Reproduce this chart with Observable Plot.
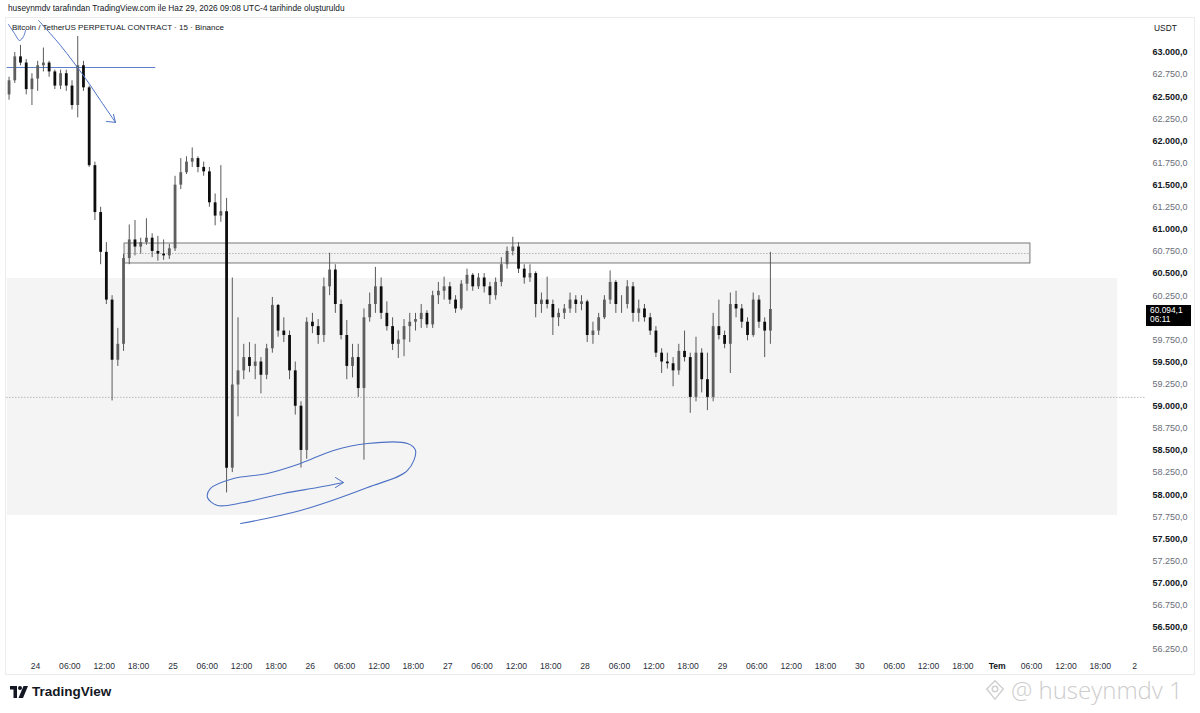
<!DOCTYPE html>
<html><head><meta charset="utf-8">
<script src="https://cdn.jsdelivr.net/npm/d3@7"></script>
<script src="https://cdn.jsdelivr.net/npm/@observablehq/plot@0.6"></script>
<style>
body{margin:0;background:#fff;width:1200px;height:713px;overflow:hidden;position:relative;font-family:"Liberation Sans",Arial,sans-serif;color:#131722}
#frame{position:absolute;left:5px;top:17px;width:1190px;height:658px;border:1px solid #ececec;box-sizing:border-box}
#chart{position:absolute;left:0;top:17px}
#hdr{position:absolute;left:8px;top:3px;font-size:8.3px;color:#131722;white-space:nowrap}
#legend{position:absolute;left:12px;top:23px;font-size:8px;color:#131722;white-space:nowrap}
#usdt{position:absolute;left:1154px;top:23px;font-size:8.4px;color:#131722}
#price{position:absolute;left:1146px;width:45px;height:21px;background:#000;color:#fff;font-size:8.4px;line-height:9.5px;padding:1px 0 0 4px;box-sizing:border-box;z-index:5}
#tv{position:absolute;left:10px;top:684px;font-size:13.5px;font-weight:bold;color:#131722;display:flex;align-items:center;gap:4px}
#wm{position:absolute;left:984px;top:673px;font-size:24px;color:#cdcdcd;display:flex;align-items:center;gap:5px;font-family:"Open Sans",sans-serif;font-weight:300;white-space:nowrap}
</style></head><body>
<div id="frame"></div>
<div id="chart"></div>
<div id="hdr">huseynmdv tarafından TradingView.com ile Haz 29, 2026 09:08 UTC-4 tarihinde oluşturuldu</div>
<div id="legend">Bitcoin / TetherUS PERPETUAL CONTRACT · 15 · Binance</div>
<div id="usdt">USDT</div>
<div id="price">60.094,1<br>06:11</div>
<div id="tv"><svg width="18" height="12" viewBox="0 0 36 24"><path d="M0 0h14v24H7V7H0z" fill="#131722"/><circle cx="20" cy="4" r="4" fill="#131722"/><path d="M27 0h9L26 24h-9z" fill="#131722"/></svg>TradingView</div>
<div id="wm"><svg width="22" height="22" viewBox="0 0 24 24"><path d="M12 2l9 9-9 11-9-11z" fill="none" stroke="#d0d0d0" stroke-width="1.6"/><circle cx="12" cy="11" r="3" fill="none" stroke="#d0d0d0" stroke-width="1.6"/></svg><span>@ huseynmdv 1</span></div>
<script>
// ---- data: BTCUSDT.P, aggregated hourly from the 15m chart (first hour 23 Jun 19:00) ----
const firstHour = "2026-06-23T19:00:00Z";
const opens = [62520,62680,62950,62880,62580,62700,62850,62880,62780,62620,62760,62620,62400,62850,62600,61720,61190,60740,60200,59520,59700,60670,60880,60800,60850,60900,60750,60720,60700,60780,61500,61640,61760,61800,61700,61650,61300,61150,61200,58300,59240,59400,59550,59450,59500,59350,59650,60140,59850,59800,59400,59000,58500,59950,59900,59800,60350,60540,60150,59800,59450,59550,59200,60000,60150,60350,60050,59900,59700,59750,59900,59950,59980,60050,59920,60250,60300,60350,60200,60100,60380,60480,60350,60450,60350,60250,60400,60600,60750,60800,60550,60450,60500,60150,60200,60150,60000,60050,60100,60200,60150,60180,59800,59850,60000,60200,60400,60150,60150,60350,60050,60100,60000,59850,59600,59500,59480,59400,59620,59550,59100,59600,59300,59100,59900,59800,59700,60150,60100,59950,59800,60200,59950,59850];
const highs = [62720,63000,63080,62920,62760,62900,63050,62900,62800,62800,62800,62680,63180,62900,62620,61760,61250,60850,60250,59880,60720,61050,61100,60900,61120,60950,60920,60880,60830,61600,61800,61820,61920,61820,61760,61700,61400,61720,61350,60450,60000,59700,59720,59700,59550,59700,60230,60150,60000,59850,59500,59050,60000,60050,59980,60450,60730,60600,60200,59970,59700,59700,60100,60280,60570,60450,60180,60000,59850,59980,60050,60050,60150,60080,60300,60400,60460,60400,60250,60420,60550,60500,60500,60500,60400,60450,60680,60800,60910,60850,60600,60600,60520,60280,60460,60200,60100,60150,60280,60250,60250,60200,59950,60050,60250,60530,60420,60250,60420,60400,60200,60150,60050,59900,59650,59600,59550,59700,59850,59600,59780,59650,59600,60050,60200,59850,60280,60300,60150,60000,60280,60250,60000,60740];
const lows = [62460,62650,62850,62520,62400,62560,62780,62720,62580,62580,62560,62350,62260,62560,61700,61100,60600,60150,59060,59450,59620,60600,60700,60720,60820,60680,60640,60650,60660,60750,61450,61620,61700,61640,61600,61250,61040,61080,58020,58250,58880,59300,59380,59300,59140,59300,59600,59780,59720,59300,58900,58300,58400,59820,59700,59720,60250,60050,59750,59300,59320,59100,58390,59950,60050,59980,59850,59630,59540,59560,59720,59850,59880,59880,59880,60150,60200,60150,60050,60080,60300,60300,60320,60280,60150,60200,60350,60550,60700,60500,60380,60400,60000,60050,60100,59800,59900,59980,60050,60050,60080,59720,59700,59800,59980,60150,60050,60050,60100,59950,59950,59950,59800,59550,59370,59420,59220,59350,59500,58920,59050,59150,58950,59050,59750,59650,59370,60000,59880,59740,59780,59880,59550,59700];
const closes = [62680,62950,62880,62580,62700,62850,62880,62780,62620,62760,62620,62400,62850,62600,61720,61190,60740,60200,59520,59700,60670,60880,60800,60850,60900,60750,60720,60700,60780,61500,61640,61760,61800,61700,61650,61300,61150,61200,58300,59240,59400,59550,59450,59500,59350,59650,60140,59850,59800,59400,59000,58500,59950,59900,59800,60350,60540,60150,59800,59450,59550,59200,60000,60150,60350,60050,59900,59700,59750,59900,59950,59980,60050,59920,60250,60300,60350,60200,60100,60380,60480,60350,60450,60350,60250,60400,60600,60750,60800,60550,60450,60500,60150,60200,60150,60000,60050,60100,60200,60150,60180,59800,59850,60000,60200,60400,60150,60150,60350,60050,60100,60000,59850,59600,59500,59480,59400,59620,59550,59100,59600,59300,59100,59900,59800,59700,60150,60100,59950,59800,60200,59950,59850,60094];
const lastPrice = 60094.1;
const lastCountdown = "06:11";

// price axis ticks (60.000,0 is hidden under the last-price label in the original)
const priceTicksBold = [56500,57000,57500,58000,58500,59000,59500,60500,61000,61500,62000,62500,63000];
const priceTicksThin = [56250,56750,57250,57750,58250,58750,59250,59750,60250,60750,61250,61750,62250,62750];
// time axis: ticks every 6 hours starting 24 Jun 00:00
const timeTickStart = "2026-06-24T00:00:00Z";
const timeTickLabels = ["24","06:00","12:00","18:00","25","06:00","12:00","18:00","26","06:00","12:00","18:00","27","06:00","12:00","18:00","28","06:00","12:00","18:00","29","06:00","12:00","18:00","30","06:00","12:00","18:00","Tem","06:00","12:00","18:00","2"];

// drawings (hours from 24 Jun 00:00, price)
const demandZone = {from: -4.95, to: 189, low: 57765, high: 60445};
const supplyBox = {from: 15.55, to: 173.8, low: 60614, high: 60840, mid: 60727};
const dottedLevel = 59100;
const blueLevel = {from: -4.95, to: 21, price: 62830};
const squiggleT = [-4.72,-3.67,-2.79,-2.10,-1.75];
const squiggleP = [63317,63215,63136,63181,63249];
const arrowT = [0.52,4.37,8.73,11.35,13.97];
const arrowP = [63362,63079,62706,62457,62209];
const arrowHeadT = [12.40,13.97,13.62];
const arrowHeadP = [62220,62209,62299];
const loopT = [35.81,46.29,57.99,64.98,66.38,64.98,57.99,52.05,46.29,40.52,34.59,30.57,30.04,31.79,36.33,43.32,49.26,53.80];
const loopP = [57674,57821,58081,58274,58500,58579,58579,58500,58353,58240,58183,58070,57968,57878,57912,58014,58081,58138];
const loopHeadT = [52.40,53.80,52.40];
const loopHeadP = [58194,58138,58081];

// ---- build ----
const HOUR = 36e5;
const base = new Date(firstHour).getTime();
const t24 = new Date(timeTickStart).getTime();
const H = h => new Date(t24 + h * HOUR);
const candles = opens.map((o, i) => ({t: new Date(base + (i + 0.375) * HOUR), open: o, high: highs[i], low: lows[i], close: closes[i]}));
const timeTicks = timeTickLabels.map((_, i) => new Date(t24 + i * 6 * HOUR));
const labelOf = new Map(timeTicks.map((d, i) => [+d, timeTickLabels[i]]));
const pts = (T, P) => T.map((t, i) => ({t: H(t), p: P[i]}));
const loc = d3.formatLocale({decimal: ",", thousands: ".", grouping: [3], currency: ["", ""]});
const fmt = loc.format(",.1f");
const blue = "#4d71c4";

const plot = Plot.plot({
  width: 1200, height: 660,
  marginLeft: 6, marginRight: 55, marginTop: 1, marginBottom: 20,
  style: {background: "transparent", fontFamily: "Liberation Sans, Arial, sans-serif", overflow: "visible"},
  x: {type: "utc", domain: [H(-5.07), H(193.9)]},
  y: {domain: [56159, 63384]},
  marks: [
    Plot.rect([demandZone], {x1: d => H(d.from), x2: d => H(d.to), y1: "low", y2: "high", fill: "#f4f4f4"}),
    Plot.ruleY([dottedLevel], {stroke: "#a9a9a9", strokeWidth: 0.8, strokeDasharray: "1.5,1.5"}),
    Plot.rect([supplyBox], {x1: d => H(d.from), x2: d => H(d.to), y1: "low", y2: "high", fill: "#f1f1f1", fillOpacity: 0.85, stroke: "#6b6b6b", strokeWidth: 0.9}),
    Plot.ruleY([supplyBox], {x1: d => H(d.from), x2: d => H(d.to), y: "mid", stroke: "#9a9a9a", strokeWidth: 0.7, strokeDasharray: "1.5,1.5"}),
    Plot.ruleY([blueLevel], {x1: d => H(d.from), x2: d => H(d.to), y: "price", stroke: blue, strokeWidth: 0.9}),
    Plot.ruleX(candles, {x: "t", y1: "low", y2: "high", stroke: "#5a5a5a", strokeWidth: 1}),
    Plot.ruleX(candles, {filter: d => d.close >= d.open, x: "t", y1: "open", y2: "close", stroke: "#5e5e5e", strokeWidth: 2.8}),
    Plot.ruleX(candles, {filter: d => d.close < d.open, x: "t", y1: "open", y2: "close", stroke: "#0d0d0d", strokeWidth: 2.8}),
    Plot.line(pts(squiggleT, squiggleP), {x: "t", y: "p", stroke: blue, strokeWidth: 1, curve: "catmull-rom"}),
    Plot.line(pts(arrowT, arrowP), {x: "t", y: "p", stroke: blue, strokeWidth: 1, curve: "catmull-rom"}),
    Plot.line(pts(arrowHeadT, arrowHeadP), {x: "t", y: "p", stroke: blue, strokeWidth: 1}),
    Plot.line(pts(loopT, loopP), {x: "t", y: "p", stroke: blue, strokeWidth: 1.1, curve: "catmull-rom"}),
    Plot.line(pts(loopHeadT, loopHeadP), {x: "t", y: "p", stroke: blue, strokeWidth: 1}),
    Plot.axisY(priceTicksBold, {anchor: "right", tickSize: 0, tickPadding: 7, tickFormat: fmt, fontSize: 9, fontWeight: "bold", fill: "#131722", label: null}),
    Plot.axisY(priceTicksThin, {anchor: "right", tickSize: 0, tickPadding: 7, tickFormat: fmt, fontSize: 9, fill: "#6a6d78", label: null}),
    Plot.axisX(timeTicks.filter(d => labelOf.get(+d) !== "Tem"), {anchor: "bottom", tickSize: 0, tickPadding: 5, tickFormat: d => labelOf.get(+d), fontSize: 8.6, fill: "#2a2e39", label: null}),
    Plot.axisX(timeTicks.filter(d => labelOf.get(+d) === "Tem"), {anchor: "bottom", tickSize: 0, tickPadding: 5, tickFormat: d => labelOf.get(+d), fontSize: 8.6, fontWeight: "bold", fill: "#131722", label: null})
  ]
});
document.getElementById("chart").appendChild(plot);
const py = plot.scale("y").apply(lastPrice);
document.getElementById("price").style.top = (17 + py - 4) + "px";
</script>
</body></html>
